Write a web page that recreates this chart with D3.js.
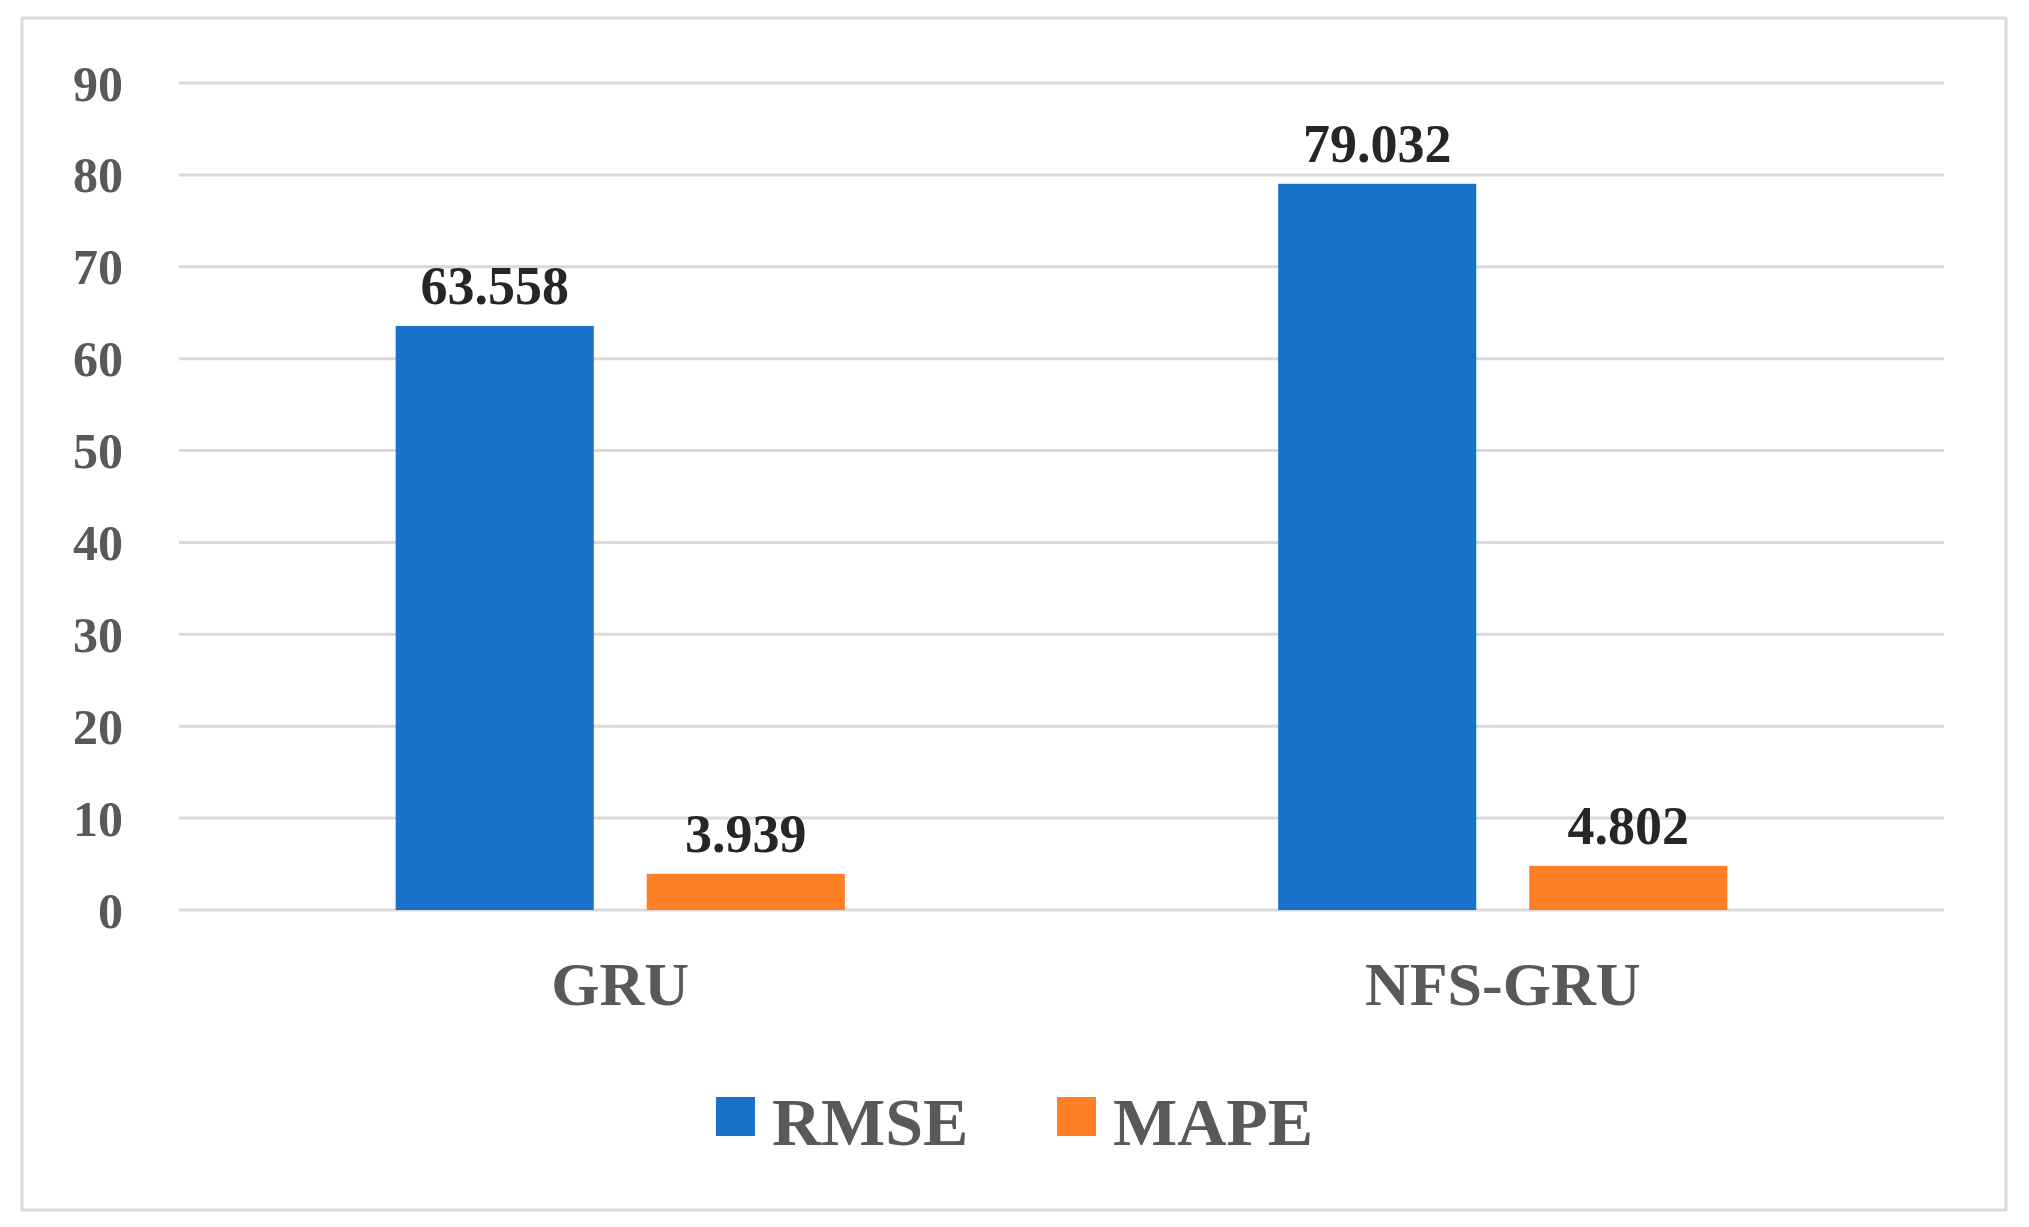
<!DOCTYPE html>
<html><head><meta charset="utf-8">
<script src="https://cdn.jsdelivr.net/npm/d3@7"></script>
<style>body{margin:0;background:#fff}text{font-family:"Liberation Serif","DejaVu Serif",serif;font-weight:bold}</style>
</head><body><svg></svg>
<script>
const categories = ["GRU", "NFS-GRU"];
const seriesNames = ["RMSE", "MAPE"];
const rmse = [63.558, 79.032];
const mape = [3.939, 4.802];
const yTicks = [0, 10, 20, 30, 40, 50, 60, 70, 80, 90];
const colors = ["#1872C9", "#FF7F27"];

const W = 2029, H = 1227;
const svg = d3.select("svg").attr("width", W).attr("height", H);
svg.append("rect").attr("x", 22).attr("y", 18).attr("width", 1984).attr("height", 1192)
    .attr("fill", "#fff").attr("stroke", "#d9d9d9").attr("stroke-width", 3);

const plotLeft = 179, plotRight = 1944, plotTop = 83, plotBottom = 910;
const y = d3.scaleLinear().domain([0, 90]).range([plotBottom, plotTop]);
const x0 = d3.scaleBand().domain(categories).range([plotLeft, plotRight]).paddingInner(0.491).paddingOuter(0.2455);
const x1 = d3.scaleBand().domain(seriesNames).range([0, x0.bandwidth()]).paddingInner(0.211);

// gridlines
svg.append("g").selectAll("line").data(yTicks).enter().append("line")
    .attr("x1", plotLeft).attr("x2", plotRight)
    .attr("y1", d => y(d)).attr("y2", d => y(d))
    .attr("stroke", "#d9d9d9").attr("stroke-width", 3);

svg.append("g").selectAll("text").data(yTicks).enter().append("text")
    .attr("x", 123).attr("y", d => y(d)).attr("dy", "0.35em")
    .attr("text-anchor", "end").attr("font-size", 50).attr("fill", "#595959")
    .text(d => d);

const rows = [];
categories.forEach((c, i) => {
    rows.push({cat: c, s: "RMSE", v: rmse[i], k: 0});
    rows.push({cat: c, s: "MAPE", v: mape[i], k: 1});
});

svg.append("g").selectAll("rect").data(rows).enter().append("rect")
    .attr("x", d => x0(d.cat) + x1(d.s)).attr("width", x1.bandwidth())
    .attr("y", d => y(d.v)).attr("height", d => y(0) - y(d.v))
    .attr("fill", d => colors[d.k]);

svg.append("g").selectAll("text").data(rows).enter().append("text")
    .attr("x", d => x0(d.cat) + x1(d.s) + x1.bandwidth() / 2)
    .attr("y", d => y(d.v) - 22)
    .attr("text-anchor", "middle").attr("font-size", 54).attr("fill", "#262626")
    .text(d => d.v.toFixed(3));

svg.append("g").selectAll("text").data(categories).enter().append("text")
    .attr("x", d => x0(d) + x0.bandwidth() / 2).attr("y", 1005)
    .attr("text-anchor", "middle").attr("font-size", 62).attr("fill", "#595959")
    .text(d => d);

const legendX = [716, 1057];
const lg = svg.append("g").selectAll("g").data(seriesNames).enter().append("g")
    .attr("transform", (d, i) => `translate(${legendX[i]},1097)`);
lg.append("rect").attr("width", 39).attr("height", 39).attr("fill", (d, i) => colors[i]);
lg.append("text").attr("x", 56).attr("y", 48).attr("font-size", 68).attr("fill", "#595959").text(d => d);
</script></body></html>
